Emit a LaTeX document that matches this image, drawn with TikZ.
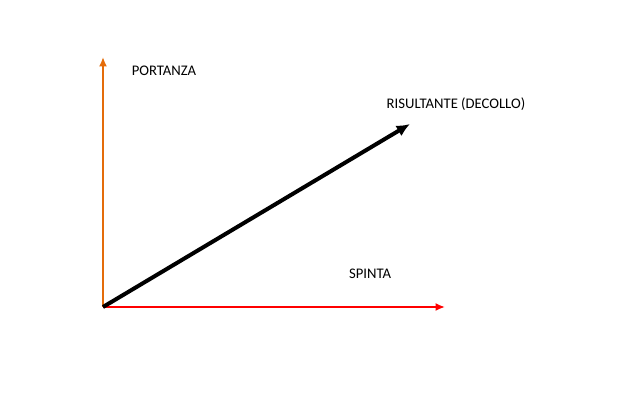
\documentclass[tikz,border=0pt]{standalone}
\usepackage{fontspec}
\setmainfont{Carlito}
\usetikzlibrary{arrows.meta}
\definecolor{liftorange}{HTML}{E46C0A}
\begin{document}
\begin{tikzpicture}[x = .75pt, y = .75pt, style={font=\fontsize{11}{13}\selectfont}]
\useasboundingbox (0,0) rectangle (640,400);
% origin and vector ends
\coordinate (origin) at (103,93);
\coordinate (lift) at (103,343);
\coordinate (thrust) at (445,93);
\coordinate (result) at (410,276);
% vectors
\draw[liftorange, line width=1.5pt, -{Latex[length=7pt,width=6pt]}] (origin) -- (lift);
\draw[red, line width=1.5pt, -{Latex[length=7pt,width=6pt]}] (origin) -- (thrust);
\draw[black, line width=3pt, -{Latex[length=10pt,width=9pt]}] (origin) -- (result);
% labels
\node (portanza) at (164,329) {PORTANZA};
\node (risultante) at (456,296) {RISULTANTE (DECOLLO)};
\node (spinta) at (370,126) {SPINTA};
\end{tikzpicture}
\end{document}
